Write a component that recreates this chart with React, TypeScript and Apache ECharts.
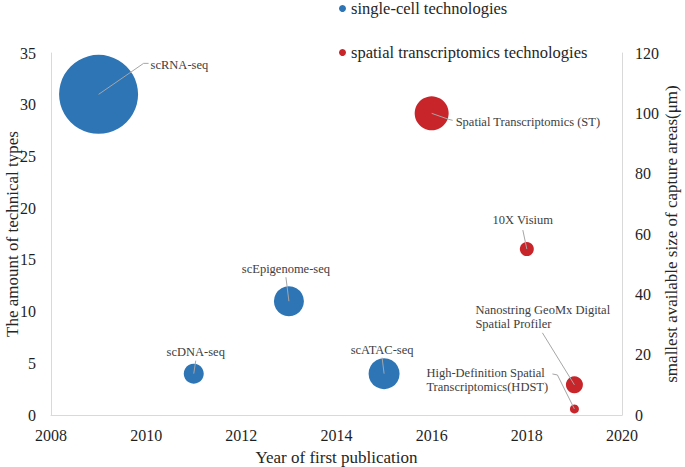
import { useEffect, useRef } from 'react';
import * as echarts from 'echarts';

// 单细胞技术
const singleCellNames = ['scRNA-seq', 'scDNA-seq', 'scEpigenome-seq', 'scATAC-seq'];
const singleCellYears = [2009, 2011, 2013, 2015];
const singleCellCounts = [31, 4, 11, 4];
const singleCellBubble = [79, 20, 30, 31];

// 空间转录组技术
const spatialNames = [
  'Spatial Transcriptomics (ST)',
  '10X Visium',
  'Nanostring GeoMx Digital\nSpatial Profiler',
  'High-Definition Spatial\nTranscriptomics(HDST)',
];
const spatialYears = [2016, 2018, 2019, 2019];
const spatialSizes = [100, 55, 10, 2];
const spatialBubble = [34, 14, 17, 9];

const legendNames = ['single-cell technologies', 'spatial transcriptomics technologies'];

// 标注引线和文字的像素偏移 (相对气泡中心)
const singleCellNotes = [
  { line: [[0, 0], [45, -31], [50, -31]], text: [52, -29], align: 'left' },
  { line: [[0, 0], [2, -13]], text: [2, -22], align: 'center' },
  { line: [[0, 0], [-3, -24]], text: [-3, -32], align: 'center' },
  { line: [[0, 0], [-2, -16]], text: [-2, -24], align: 'center' },
];
const spatialNotes = [
  { line: [[0, 0], [17, 6], [21, 7]], text: [24, 9], align: 'left' },
  { line: [[0, 0], [-4, -19]], text: [-4, -29], align: 'center' },
  { line: [[0, 0], [-32, -52]], text: [-99, -68], align: 'left' },
  { line: [[0, 0], [-17, -34], [-22, -35]], text: [-148, -29], align: 'left' },
];

const BLUE = '#2E75B6';
const RED = '#C8252B';
const FONT = 'Liberation Serif';

const makeNotes = (names: string[], notes: any[]) => (params: any, api: any) => {
  const p = api.coord([api.value(0), api.value(1)]);
  const note = notes[params.dataIndex];
  return {
    type: 'group',
    children: [
      {
        type: 'polyline',
        shape: { points: note.line.map((d: number[]) => [p[0] + d[0], p[1] + d[1]]) },
        style: { stroke: '#A6A6A6', lineWidth: 1, fill: 'none' },
      },
      {
        type: 'text',
        style: {
          text: names[params.dataIndex],
          x: p[0] + note.text[0],
          y: p[1] + note.text[1],
          align: note.align,
          verticalAlign: 'middle',
          fill: '#404040',
          fontSize: 12.5,
          lineHeight: 14,
          fontFamily: FONT,
        },
      },
    ],
  };
};

const App = () => {
  const chartDom = useRef<HTMLDivElement>(null);

  useEffect(() => {
    const chart = echarts.init(chartDom.current, null, { renderer: 'svg' });

    const singleData = singleCellYears.map((y, i) => [y, singleCellCounts[i]]);
    const spatialData = spatialYears.map((y, i) => [y, spatialSizes[i]]);

    const axisLine = { show: true, lineStyle: { color: '#D9D9D9', width: 1 } };
    const axisLabel = { color: '#1F1F1F', fontSize: 16, fontFamily: FONT };
    const nameStyle = { color: '#262626', fontSize: 17, fontFamily: FONT };

    chart.setOption({
      animation: false,
      textStyle: { fontFamily: FONT },
      legend: {
        data: legendNames,
        orient: 'vertical',
        left: 339,
        top: 0,
        padding: 0,
        itemGap: 27,
        itemWidth: 7,
        itemHeight: 7,
        icon: 'circle',
        textStyle: { color: '#262626', fontSize: 16.5, fontFamily: FONT },
      },
      grid: {
        left: 51,
        right: 63,
        top: 53,
        bottom: 52,
        containLabel: false,
        outerBoundsMode: 'none',
      },
      xAxis: {
        type: 'value',
        min: 2008,
        max: 2020,
        interval: 2,
        name: 'Year of first publication',
        nameLocation: 'middle',
        nameGap: 34,
        nameMoveOverlap: false,
        nameTextStyle: nameStyle,
        axisLine,
        axisTick: { show: false },
        splitLine: { show: false },
        axisLabel: { ...axisLabel, margin: 12, formatter: (v: number) => String(v) },
      },
      yAxis: [
        {
          type: 'value',
          min: 0,
          max: 35,
          interval: 5,
          name: 'The amount of technical types',
          nameLocation: 'middle',
          nameGap: 30,
          nameMoveOverlap: false,
          nameTextStyle: nameStyle,
          axisLine,
          axisTick: { show: false },
          splitLine: { show: false },
          axisLabel: { ...axisLabel, margin: 15 },
        },
        {
          type: 'value',
          min: 0,
          max: 120,
          interval: 20,
          position: 'right',
          name: 'smallest available size of capture areas(μm)',
          nameLocation: 'middle',
          nameGap: 41,
          nameMoveOverlap: false,
          nameTextStyle: nameStyle,
          axisLine,
          axisTick: { show: false },
          splitLine: { show: false },
          axisLabel: { ...axisLabel, margin: 13 },
        },
      ],
      series: [
        {
          name: legendNames[0],
          type: 'scatter',
          yAxisIndex: 0,
          data: singleData,
          symbolSize: (_v: any, params: any) => singleCellBubble[params.dataIndex],
          itemStyle: { color: BLUE, opacity: 1 },
          z: 2,
        },
        {
          name: legendNames[1],
          type: 'scatter',
          yAxisIndex: 1,
          data: spatialData,
          symbolSize: (_v: any, params: any) => spatialBubble[params.dataIndex],
          itemStyle: { color: RED, opacity: 1 },
          z: 2,
        },
        {
          name: 'single-notes',
          type: 'custom',
          yAxisIndex: 0,
          data: singleData,
          renderItem: makeNotes(singleCellNames, singleCellNotes),
          silent: true,
          z: 5,
        },
        {
          name: 'spatial-notes',
          type: 'custom',
          yAxisIndex: 1,
          data: spatialData,
          renderItem: makeNotes(spatialNames, spatialNotes),
          silent: true,
          z: 5,
        },
      ],
    });

    return () => {
      chart.dispose();
    };
  }, []);

  return (
    <div
      ref={chartDom}
      style={{ position: 'fixed', left: 0, top: 0, width: 685, height: 467, background: '#fff' }}
    />
  );
};

export default App;
